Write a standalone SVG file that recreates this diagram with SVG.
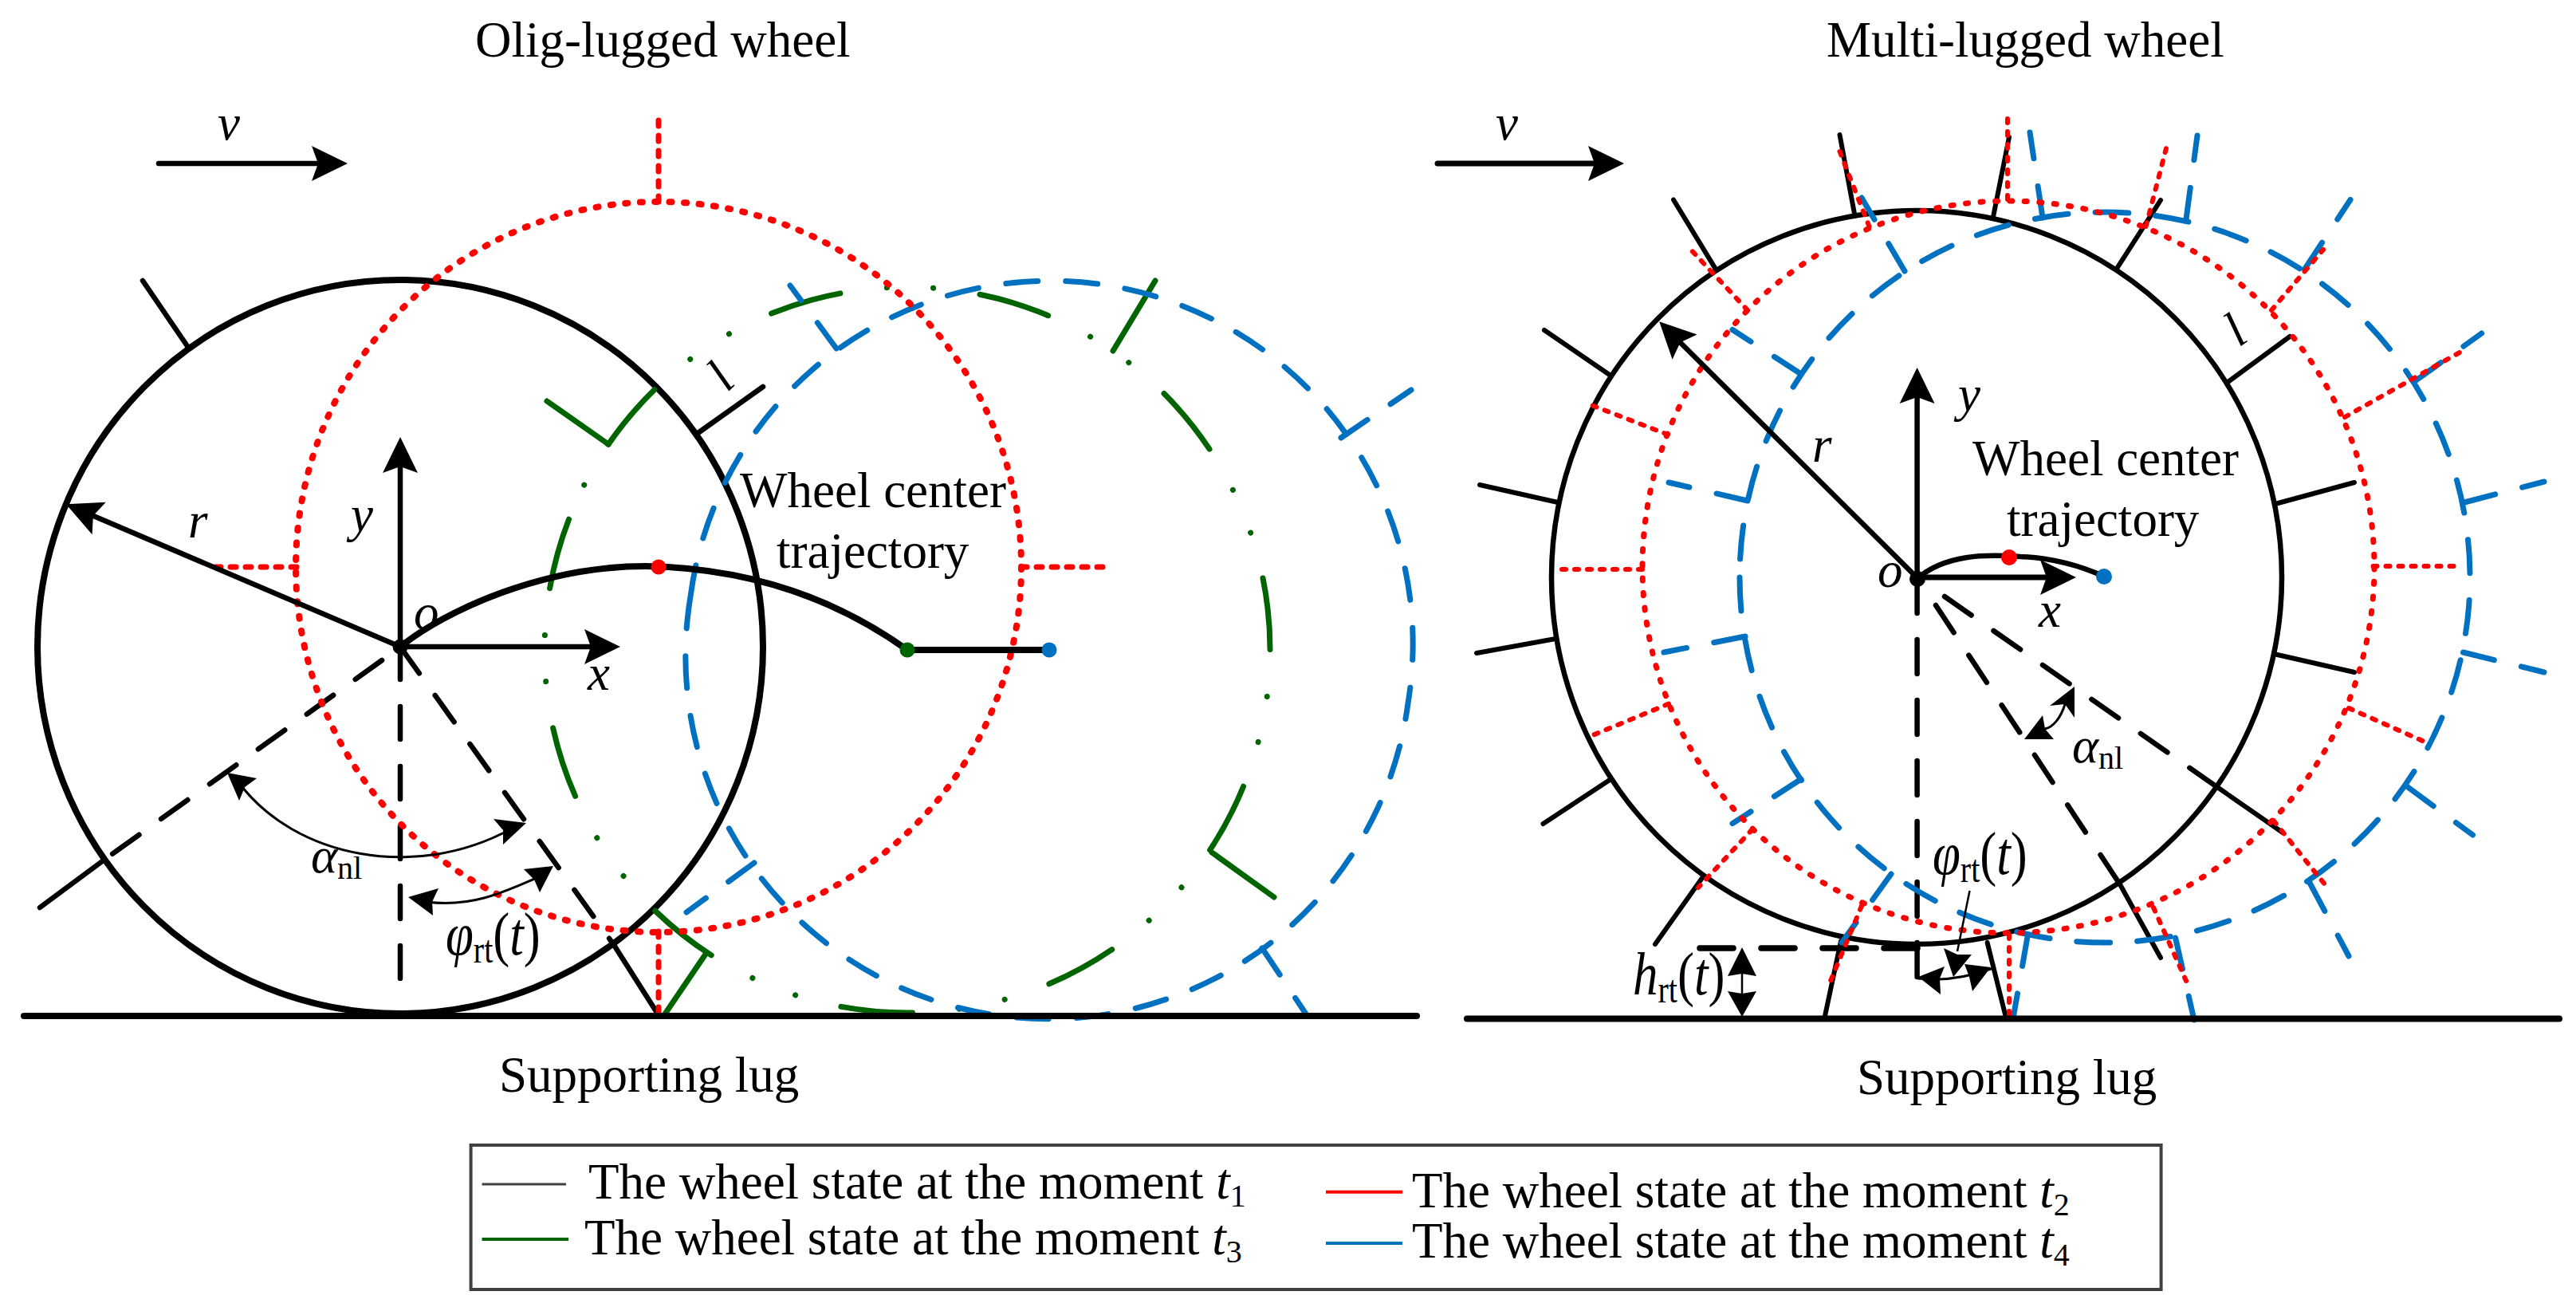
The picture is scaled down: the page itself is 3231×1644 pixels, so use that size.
<svg xmlns="http://www.w3.org/2000/svg" width="3231" height="1644" viewBox="0 0 3231 1644">
<style>
text{font-family:"Liberation Serif","Times New Roman",serif;font-size:63px;fill:#000}
.i{font-style:italic}
.u{font-style:normal}
.s{font-size:40px}
.n{fill:none;stroke-linecap:round}
.k{stroke:#000;stroke-width:8}
.k2{stroke:#000;stroke-width:6.5}
.kl{stroke:#000;stroke-width:6}
.dk{stroke:#000;stroke-width:6.5;stroke-dasharray:41 34}
.thin{stroke:#000;stroke-width:3}
.r{stroke:#f00;stroke-width:8;stroke-dasharray:3 15.5}
.rl{stroke:#f00;stroke-width:7;stroke-dasharray:7 12}
.rm{stroke:#f00;stroke-width:6;stroke-dasharray:5 11}
.g{stroke:#006400;stroke-width:7;stroke-dasharray:90 59 .1 58 .1 59}
.gl{stroke:#006400;stroke-width:7}
.b{stroke:#0070c0;stroke-width:7;stroke-dasharray:40 35}
.b2{stroke:#0070c0;stroke-width:7;stroke-dasharray:42 34}
.h{fill:#000;stroke:none}
.lg{stroke-width:4;fill:none}
</style>
<defs>
<marker id="ah" markerUnits="userSpaceOnUse" markerWidth="48" markerHeight="48" viewBox="0 -24 48 48" refX="10" refY="0" orient="auto">
<path d="M0 -22L45 0L0 22L8 0Z" fill="#000"/>
</marker>
</defs>

<g id="left-wheel-t1">
<ellipse class="n k" cx="502" cy="811" rx="455" ry="460"/>
<path class="n k2" d="M874 544L957 485M237 437L179 352M131 1078L50 1138M770 1185L826 1273"/>
<path class="n dk" d="M502 811L502 1239M502 811L770 1185M479 828L131 1078"/>
</g>
<g id="left-wheel-t3">
<path class="n g" d="M713.5 651.2A455 455 0 1 0 1562.5 978.8A455 455 0 1 0 713.5 651.2"/>
<path class="n gl" d="M763 557L686 503M1396 440L1449 352M1520 1069L1598 1125M886 1195L833 1273"/>
</g>
<g id="left-wheel-t4">
<path class="n b" d="M866 748.2A455 455 0 1 0 1766 881.8A455 455 0 1 0 866 748.2"/>
<path class="n b" d="M946 1082L861 1144M1583 1189L1639 1273M1682 549L1770 489M1049 437L991 358"/>
</g>
<g id="left-wheel-t2">
<ellipse class="n r" cx="826" cy="711" rx="455" ry="458"/>
<path class="n rl" d="M826 253L826 149M372 711L268 711M1281 711L1384 711M826 1168L826 1273"/>
</g>
<g id="left-connectors">
<path class="n k" d="M502 811C560 765 680 710 810 710C930 712 1040 745 1138 815L1316 815"/>
<circle cx="826" cy="711" r="9.5" fill="#f00"/>
<circle cx="1138" cy="815" r="9.5" fill="#006400"/>
<circle cx="1316" cy="815" r="9.5" fill="#0070c0"/>
<circle cx="502" cy="811" r="9.5" fill="#000"/>
<path class="n k2" d="M199 205L401 205" marker-end="url(#ah)"/>
<path class="n k2" d="M502 811L502 583" marker-end="url(#ah)"/>
<path class="n k2" d="M502 811L743 811" marker-end="url(#ah)"/>
<path class="n k2" d="M502 811L115 646" marker-end="url(#ah)"/>
<path class="n thin" d="M300 982C370 1075 520 1105 640 1040"/>
<polygon class="h" points="285,969 322,976 307,987 300,1004"/>
<polygon class="h" points="660,1032 619,1027 631,1041 631,1059"/>
<path class="n thin" d="M535 1131C590 1138 630 1120 675 1100"/>
<polygon class="h" points="512,1125 550,1114 542,1131 543,1148"/>
<polygon class="h" points="694,1086 657,1090 670,1103 677,1119"/>
<path class="n" stroke="#000" stroke-width="8" d="M30 1274L1777 1274"/>
</g>
<g id="left-labels">
<text x="596" y="71">Olig-lugged wheel</text>
<text class="i" x="273" y="175">v</text>
<text class="i" x="236" y="674">r</text>
<text class="i" x="440" y="666">y</text>
<text class="i" x="519" y="789">o</text>
<text class="i" x="737" y="865">x</text>
<text class="i" transform="translate(912 493) rotate(-45)">l</text>
<text x="928" y="636">Wheel center</text>
<text x="974" y="712">trajectory</text>
<text x="626" y="1369">Supporting lug</text>
<text x="390" y="1094" class="i">α<tspan class="s u" dy="8">nl</tspan></text>
<text class="i" transform="translate(559 1197) scale(1 1.2)">φ<tspan class="s u" dy="8">rt</tspan><tspan class="u" dy="-8">(</tspan>t<tspan class="u">)</tspan></text>
</g>

<g id="right-wheel-t1">
<ellipse class="n k2" cx="2404" cy="724" rx="458" ry="460"/>
<path class="n kl" d="M2326 268L2307.5 169M2500 272L2520 172M2654.5 337.6L2710 251M2793 480L2872 422M2853.5 632L2953 605M2852 820L2953 843M2781 987L2863 1044M2659 1109L2710 1201M2492.6 1182L2516 1276M2309 1180L2289 1274M2136 1099.6L2076 1184M2019 978L1935.5 1033M1951 801L1852 819M1954 630L1856 608M2021 471.5L1937 414M2152 337.6L2099 250.5"/>
<path class="n dk" d="M2404.6 726L2404.6 1230" style="stroke-dasharray:43 33"/>
<path class="n dk" d="M2428 759L2659 1109"/>
<path class="n dk" d="M2439 748L2781 987"/>
<path class="n" stroke="#000" stroke-width="7.5" stroke-dasharray="42 35" d="M2132 1189L2405 1189"/>
</g>
<g id="right-wheel-t4">
<path class="n b2" d="M2182 724A458 458 0 1 0 3098 724A458 458 0 1 0 2182 724"/>
<path class="n b" d="M2562 273L2546 166M2742 275L2756 170M2890.5 337.6L2948 250.5M3029 478L3112.6 418M3091 630L3191 604M3089.5 818L3191 843M3020 987L3101.5 1047M2897 1107L2946 1199M2728.6 1176L2752 1279M2543.5 1172L2525 1277M2372 1096L2310 1182M2259 977L2173 1032.6M2189 798L2087 818M2192 628L2093 605M2259 469L2173 413.5M2389 340L2335 248"/>
</g>
<g id="right-wheel-t2">
<circle class="n r" cx="2519" cy="711" r="459" style="stroke-width:7"/>
<path class="n rm" d="M2518 250L2518 148M2691.5 284L2717 186M2849 389L2914 313M2941 523L3092 438M2976.5 710L3080 710M2946 888L3038.6 929M2851.6 1029L2916 1109M2701 1138L2742 1230M2520 1172L2520 1277M2335 1136L2296 1230M2198 1040L2130 1113M2093 882.6L1997.5 922M2060 714L1958 714M2092 545L1997.5 508.6M2192 389L2120.6 313M2344.5 284L2307.5 190"/>
</g>
<g id="right-connectors">
<path class="n k2" d="M2404 726C2440 695 2490 695 2534 698C2580 700 2615 712 2639 723"/>
<circle cx="2520" cy="699" r="10" fill="#f00"/>
<circle cx="2639" cy="723" r="10" fill="#0070c0"/>
<circle cx="2405" cy="726" r="10" fill="#000"/>
<path class="n k2" d="M1803 205L2002 205" marker-end="url(#ah)" style="stroke-width:7"/>
<path class="n k2" d="M2404.6 726L2404.6 496" marker-end="url(#ah)"/>
<path class="n k2" d="M2404 724L2569 724" marker-end="url(#ah)" style="stroke-width:7"/>
<path class="n k2" d="M2404 724L2106 428" marker-end="url(#ah)"/>
<path class="n thin" d="M2590 883C2585 900 2575 912 2565 914"/>
<polygon class="h" points="2602,861 2571,885 2590,883 2602,900"/>
<polygon class="h" points="2539,927 2576,927 2565,914 2562,897"/>
<path class="n thin" d="M2406 1227Q2450 1232 2497 1215"/>
<polygon class="h" points="2406,1225 2439,1212 2433,1227 2434,1247"/>
<polygon class="h" points="2497,1213 2464,1209 2470,1225 2474,1243"/>
<polygon class="h" points="2450,1225 2438,1189 2455,1197 2473,1197"/>
<path stroke="#000" stroke-width="2.5" fill="none" d="M2470.5 1117L2455 1193"/>
<path stroke="#000" stroke-width="2.5" fill="none" d="M2185 1221L2185 1246"/>
<polygon class="h" points="2185,1188 2167,1224 2185,1221 2203,1224"/>
<polygon class="h" points="2185,1275 2167,1243 2185,1246 2203,1243"/>
<path class="n" stroke="#000" stroke-width="8" d="M1840 1277.5L3210 1277.5"/>
</g>
<g id="right-labels">
<text x="2291" y="71">Multi-lugged wheel</text>
<text class="i" x="1876" y="175">v</text>
<text class="i" x="2273" y="579">r</text>
<text class="i" x="2456" y="515">y</text>
<text class="i" x="2355" y="736">o</text>
<text class="i" x="2557" y="786">x</text>
<text class="i" transform="translate(2808 436) rotate(-35)">l</text>
<text x="2474" y="596">Wheel center</text>
<text x="2517" y="672">trajectory</text>
<text x="2329" y="1372">Supporting lug</text>
<text x="2599" y="956" class="i">α<tspan class="s u" dy="8">nl</tspan></text>
<text class="i" transform="translate(2424 1096) scale(1 1.2)">φ<tspan class="s u" dy="8">rt</tspan><tspan class="u" dy="-8">(</tspan>t<tspan class="u">)</tspan></text>
<text class="i" transform="translate(2048 1247) scale(1 1.2)">h<tspan class="s u" dy="8">rt</tspan><tspan class="u" dy="-8">(</tspan>t<tspan class="u">)</tspan></text>
</g>

<g id="legend">
<rect x="590.6" y="1436" width="2120" height="181" fill="none" stroke="#404040" stroke-width="4"/>
<path class="lg" stroke="#404040" d="M604.5 1485L710 1485" style="stroke-width:3"/>
<path class="lg" stroke="#f00" d="M1663 1494.7L1759 1494.7"/>
<path class="lg" stroke="#006400" d="M604.5 1554L713 1554"/>
<path class="lg" stroke="#0070c0" d="M1663 1559L1759 1559"/>
<text x="738" y="1503">The wheel state at the moment <tspan class="i">t</tspan><tspan class="s" dy="10">1</tspan></text>
<text x="1771" y="1514">The wheel state at the moment <tspan class="i">t</tspan><tspan class="s" dy="10">2</tspan></text>
<text x="733" y="1573">The wheel state at the moment <tspan class="i">t</tspan><tspan class="s" dy="10">3</tspan></text>
<text x="1771" y="1577">The wheel state at the moment <tspan class="i">t</tspan><tspan class="s" dy="10">4</tspan></text>
</g>
</svg>
